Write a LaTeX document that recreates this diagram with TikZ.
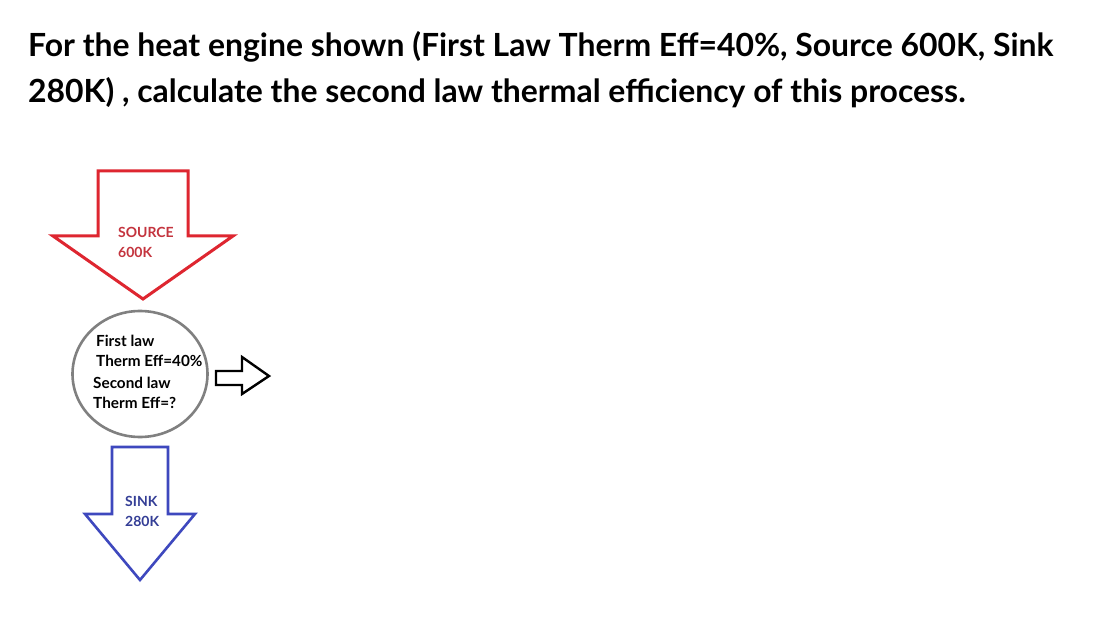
\documentclass[tikz,border=0pt]{standalone}
\usepackage{fontspec}
\setmainfont{Lato}
\usepackage{xcolor}
\definecolor{srcred}{RGB}{222,38,48}
\definecolor{srctext}{RGB}{196,52,62}
\definecolor{sinkblue}{RGB}{62,72,190}
\definecolor{sinktext}{RGB}{52,62,150}
\definecolor{engray}{RGB}{128,128,128}
\tikzset{
  title/.style={anchor=base west,inner sep=0pt,font=\fontsize{31.9}{40}\selectfont\bfseries},
  small/.style={anchor=base west,inner sep=0pt,font=\fontsize{14}{16}\selectfont\bfseries},
  enginetext/.style={anchor=base west,inner sep=0pt,font=\fontsize{15.3}{18}\selectfont\bfseries},
}

\begin{document}
\begin{tikzpicture}[x=1pt,y=-1pt]
        \useasboundingbox[fill=white] (0,0) rectangle (1094,628);
        \node[title] (line1) at (28,57) {For the heat engine shown (First Law Therm Eff=40\%, Source 600K, Sink};
        \node[title] (line2) at (28,103) {280K) , calculate the second law thermal efficiency of this process.};
        \draw[srcred,line width=3pt,line join=miter] (98,171)--(188,171)--(188,236)--(233,236)--(143,299)--(53,236)--(98,236)--cycle; %SOURCE
        \node[small,text=srctext] (src) at (118,238) {SOURCE};
        \node[small,text=srctext] (srcT) at (118,258) {600K};
        \draw[engray,line width=2.6pt] (140,374) ellipse (67.5 and 63); %エンジン
        \node[enginetext] (first) at (96,346) {First law};
        \node[enginetext] (firstEff) at (96,366) {Therm Eff=40\%};
        \node[enginetext] (second) at (93,388) {Second law};
        \node[enginetext] (secondEff) at (93,408) {Therm Eff=?};
        \draw[black,line width=2.4pt,line join=miter] (216,371)--(242,371)--(242,357)--(269,376)--(242,394)--(242,385)--(216,385)--cycle; %仕事
        \draw[sinkblue,line width=2.6pt,line join=miter] (112,447)--(168,447)--(168,514)--(195,514)--(140,580)--(85,514)--(112,514)--cycle; %SINK
        \node[small,text=sinktext] (sink) at (125,506) {SINK};
        \node[small,text=sinktext] (sinkT) at (125,526) {280K};
\end{tikzpicture}
\end{document}
